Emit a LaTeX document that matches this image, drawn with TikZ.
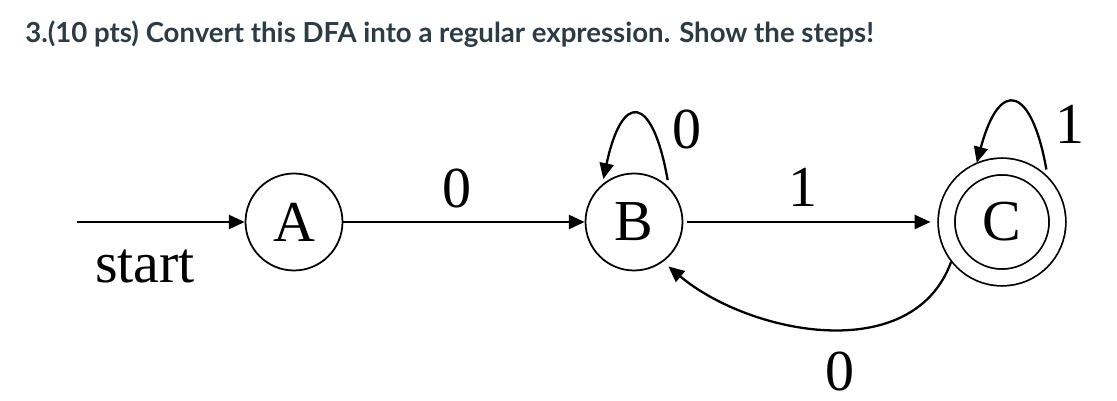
\documentclass[tikz,border=0pt]{standalone}
\usepackage{fontspec}
\setmainfont{Liberation Serif}
\newfontfamily\titlefont{Lato}
\usepackage{xcolor}
\usetikzlibrary{arrows.meta,positioning}
\definecolor{titlegray}{HTML}{2D3B45}
\tikzstyle{state}=[circle, draw, line width=1pt, minimum size=1.94cm, inner sep=0pt, font=\fontsize{33}{40}\selectfont]
\tikzstyle{accept}=[state, double, double distance=0.3cm, minimum size=2.22cm, outer sep=0.18cm]
\tikzstyle{trans}=[line width=1.3pt, -{Triangle[length=9pt,width=8pt]}]
\tikzstyle{lbl}=[font=\fontsize{33}{40}\selectfont, inner sep=0pt]
\tikzstyle{title}=[anchor=base west, text=titlegray, inner sep=0pt, font=\titlefont\bfseries\fontsize{15.7}{19}\selectfont]

\begin{document}
\begin{tikzpicture}[x=0.02cm,y=0.02cm]
\useasboundingbox (0,0) rectangle (1117,-401);
%Question
\node[title] (q) at (25,-43) {3.(10 pts) Convert this DFA into a regular expression. Show the steps!};

%States
\node[state] (A) at (294,-222) {A};
\node[state] (B) at (634,-222) {B};
\node[accept] (C) at (1002,-222) {C};
\coordinate (start) at (77,-222);
\node[lbl, anchor=base] (startlbl) at (145,-283) {start};

%Transitions
\draw[trans] (start) -- (A);
\draw[trans] (A) -- node[lbl, above=7pt, pos=0.47] (l1) {0} (B);
\draw[trans, shorten <=2pt, shorten >=4pt] (B) -- node[lbl, above=8pt, pos=0.47] (l2) {1} (C);
\draw[trans, shorten <=4pt, shorten >=3pt] (B.45) .. controls +(100:95) and +(78:95) .. (B.130);
\node[lbl] (l3) at (687,-130) {0};
\draw[trans, shorten <=4pt] (C.45) .. controls +(100:90) and +(75:90) .. (C.113);
\node[lbl] (l4) at (1070,-124) {1};
\draw[trans, shorten >=4pt] (C.218) to[out=250,in=320] (B.306);
\node[lbl] (l5) at (840,-372) {0};
\end{tikzpicture}
\end{document}
